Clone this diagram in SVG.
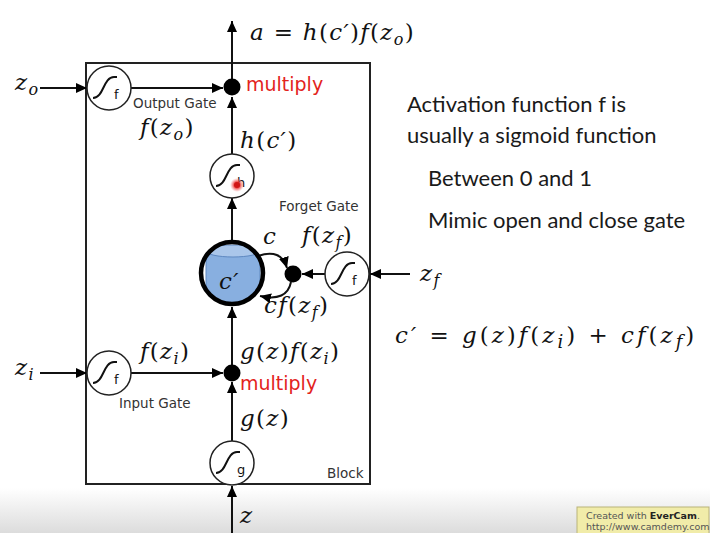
<svg xmlns="http://www.w3.org/2000/svg" xmlns:xlink="http://www.w3.org/1999/xlink" width="710" height="533" viewBox="0 0 710 533">
<style>
.ln{stroke:#111;stroke-width:2;fill:none}
.arr{marker-end:url(#ah)}
.gc{fill:#fff;stroke:#222;stroke-width:1.5}
.sig{fill:none;stroke:#111;stroke-width:2}
.sl{font-family:"DejaVu Sans",sans-serif;font-size:13px;fill:#111}
.lab{font-family:"DejaVu Sans",sans-serif;font-size:13.5px;fill:#333}
.m{font-family:"DejaVu Serif",serif;font-style:italic;font-size:23px;letter-spacing:1.3px;fill:#111}
.u{font-style:normal}
.red{font-family:"DejaVu Sans",sans-serif;font-size:19px;fill:#e3231c}
.txt{font-family:"Lato","Liberation Sans",sans-serif;font-size:22px;fill:#1a1a1a}
.dot{fill:#000}
</style>
<defs>
<marker id="ah" markerUnits="userSpaceOnUse" markerWidth="12" markerHeight="10" refX="11" refY="5" orient="auto">
<path d="M0,0 L11,5 L0,10 z" fill="#000"/>
</marker>
<path id="sg" d="M-16 10 C-5 10 -6 -11 5 -11 L8 -11"/>
<linearGradient id="bg" x1="0" y1="0" x2="0" y2="1">
<stop offset="0" stop-color="#fff"/>
<stop offset="1" stop-color="#dcdcdc"/>
</linearGradient>
<clipPath id="cc"><circle cx="232" cy="273" r="30"/></clipPath>
<radialGradient id="rd"><stop offset="0" stop-color="#e01010"/><stop offset="0.5" stop-color="#ee4040" stop-opacity="0.8"/><stop offset="1" stop-color="#f08080" stop-opacity="0"/></radialGradient>
</defs>
<rect width="710" height="533" fill="#fff"/>
<rect x="0" y="488" width="710" height="45" fill="url(#bg)"/>

<g id="block">
<rect x="86" y="63" width="284" height="421" fill="none" stroke="#222" stroke-width="2"/>
<text class="lab" x="327" y="478">Block</text>
</g>

<g id="connectors">
<line class="ln arr" x1="40" y1="88" x2="87" y2="88"/>
<line class="ln arr" x1="131" y1="88" x2="223" y2="88"/>
<line class="ln arr" x1="232" y1="87" x2="232" y2="21"/>
<line class="ln arr" x1="232" y1="154" x2="232" y2="97"/>
<line class="ln arr" x1="232" y1="241" x2="232" y2="198"/>
<line class="ln arr" x1="410" y1="274" x2="370" y2="274"/>
<line class="ln arr" x1="325" y1="274" x2="302" y2="274"/>
<path class="ln arr" d="M258 256 Q281 248 287 268"/>
<path class="ln arr" d="M291 282 Q287 302 260 296"/>
<line class="ln arr" x1="40" y1="373" x2="87" y2="373"/>
<line class="ln arr" x1="131" y1="373" x2="223" y2="373"/>
<line class="ln arr" x1="232" y1="373" x2="232" y2="307"/>
<line class="ln arr" x1="232" y1="441" x2="232" y2="382"/>
<line class="ln arr" x1="232" y1="533" x2="232" y2="486"/>
</g>

<g id="output-gate">
<circle class="gc" cx="109" cy="88" r="22"/>
<use xlink:href="#sg" class="sig" transform="translate(109,88)"/>
<text class="sl" x="114" y="99">f</text>
<text class="lab" x="133" y="108">Output Gate</text>
</g>

<g id="output-multiply">
<circle class="dot" cx="232" cy="87" r="8.5"/>
<text class="red" x="246" y="91">multiply</text>
</g>

<g id="h-node">
<circle class="gc" cx="232" cy="176" r="22"/>
<use xlink:href="#sg" class="sig" transform="translate(232,176)"/>
<text class="sl" x="237" y="187">h</text>
<circle cx="237" cy="185" r="7" fill="url(#rd)"/>
<circle cx="237" cy="185" r="3" fill="#d01515"/>
</g>

<g id="cell">
<circle cx="232" cy="273" r="31" fill="#fff"/>
<g clip-path="url(#cc)">
<rect x="206" y="251" width="54" height="56" fill="#88afe0"/>
<ellipse cx="233" cy="251" rx="27" ry="6" fill="#aac6ea" stroke="#5f88c0" stroke-width="1"/>
<line x1="206" y1="251" x2="206" y2="305" stroke="#5f88c0" stroke-width="1"/>
<line x1="260" y1="251" x2="260" y2="305" stroke="#5f88c0" stroke-width="1"/>
</g>
<circle cx="232" cy="273" r="31" fill="none" stroke="#000" stroke-width="4.5"/>
<text class="m" x="219" y="289" font-size="25">c′</text>
</g>

<g id="forget-multiply">
<circle class="dot" cx="293" cy="274" r="8.5"/>
</g>

<g id="forget-gate">
<circle class="gc" cx="347" cy="274" r="22"/>
<use xlink:href="#sg" class="sig" transform="translate(347,274)"/>
<text class="sl" x="352" y="285">f</text>
<text class="lab" x="279" y="211">Forget Gate</text>
</g>

<g id="input-gate">
<circle class="gc" cx="109" cy="373" r="22"/>
<use xlink:href="#sg" class="sig" transform="translate(109,373)"/>
<text class="sl" x="114" y="384">f</text>
<text class="lab" x="119" y="408">Input Gate</text>
</g>

<g id="input-multiply">
<circle class="dot" cx="232" cy="373" r="8.5"/>
<text class="red" x="240" y="390">multiply</text>
</g>

<g id="g-node">
<circle class="gc" cx="232" cy="463" r="22"/>
<use xlink:href="#sg" class="sig" transform="translate(232,463)"/>
<text class="sl" x="237" y="474">g</text>
</g>

<g id="math-labels">
<text class="m" x="250" y="40">a <tspan class="u">=</tspan> h<tspan class="u">(</tspan>c′<tspan class="u">)</tspan>f<tspan class="u">(</tspan>z<tspan font-size="16" dy="5">o</tspan><tspan class="u" dy="-5">)</tspan></text>
<text class="m" x="15" y="90">z<tspan font-size="16" dy="5">o</tspan></text>
<text class="m" x="140" y="135">f<tspan class="u">(</tspan>z<tspan font-size="16" dy="5">o</tspan><tspan class="u" dy="-5">)</tspan></text>
<text class="m" x="240" y="148">h<tspan class="u">(</tspan>c′<tspan class="u">)</tspan></text>
<text class="m" x="263" y="244">c</text>
<text class="m" x="302" y="243">f<tspan class="u">(</tspan>z<tspan font-size="16" dy="5">f</tspan><tspan class="u" dy="-5">)</tspan></text>
<text class="m" x="264" y="313">cf<tspan class="u">(</tspan>z<tspan font-size="16" dy="5">f</tspan><tspan class="u" dy="-5">)</tspan></text>
<text class="m" x="420" y="281">z<tspan font-size="16" dy="5">f</tspan></text>
<text class="m" x="15" y="375">z<tspan font-size="16" dy="5">i</tspan></text>
<text class="m" x="140" y="359">f<tspan class="u">(</tspan>z<tspan font-size="16" dy="5">i</tspan><tspan class="u" dy="-5">)</tspan></text>
<text class="m" x="240" y="359">g<tspan class="u">(</tspan>z<tspan class="u">)</tspan>f<tspan class="u">(</tspan>z<tspan font-size="16" dy="5">i</tspan><tspan class="u" dy="-5">)</tspan></text>
<text class="m" x="240" y="426">g<tspan class="u">(</tspan>z<tspan class="u">)</tspan></text>
<text class="m" x="240" y="523">z</text>
</g>

<g id="notes">
<text class="txt" x="407" y="112">Activation function f is</text>
<text class="txt" x="407" y="143">usually a sigmoid function</text>
<text class="txt" x="428" y="186">Between 0 and 1</text>
<text class="txt" x="428" y="228">Mimic open and close gate</text>
<text class="m" x="395" y="343" font-size="27" style="letter-spacing:3px">c′ <tspan class="u">=</tspan> g<tspan class="u">(</tspan>z<tspan class="u">)</tspan>f<tspan class="u">(</tspan>z<tspan font-size="18" dy="5">i</tspan><tspan class="u" dy="-5">)</tspan> <tspan class="u">+</tspan> cf<tspan class="u">(</tspan>z<tspan font-size="18" dy="5">f</tspan><tspan class="u" dy="-5">)</tspan></text>
</g>

<g id="badge">
<rect x="577" y="507" width="132" height="27" fill="#f1eca9" stroke="#b9b37a" stroke-width="1"/>
<text x="586" y="519" font-family="DejaVu Sans,sans-serif" font-size="9.5" fill="#555">Created with <tspan font-weight="bold" fill="#222">EverCam</tspan>.</text>
<text x="586" y="530" font-family="DejaVu Sans,sans-serif" font-size="9.5" fill="#555">http://www.camdemy.com</text>
</g>
</svg>
